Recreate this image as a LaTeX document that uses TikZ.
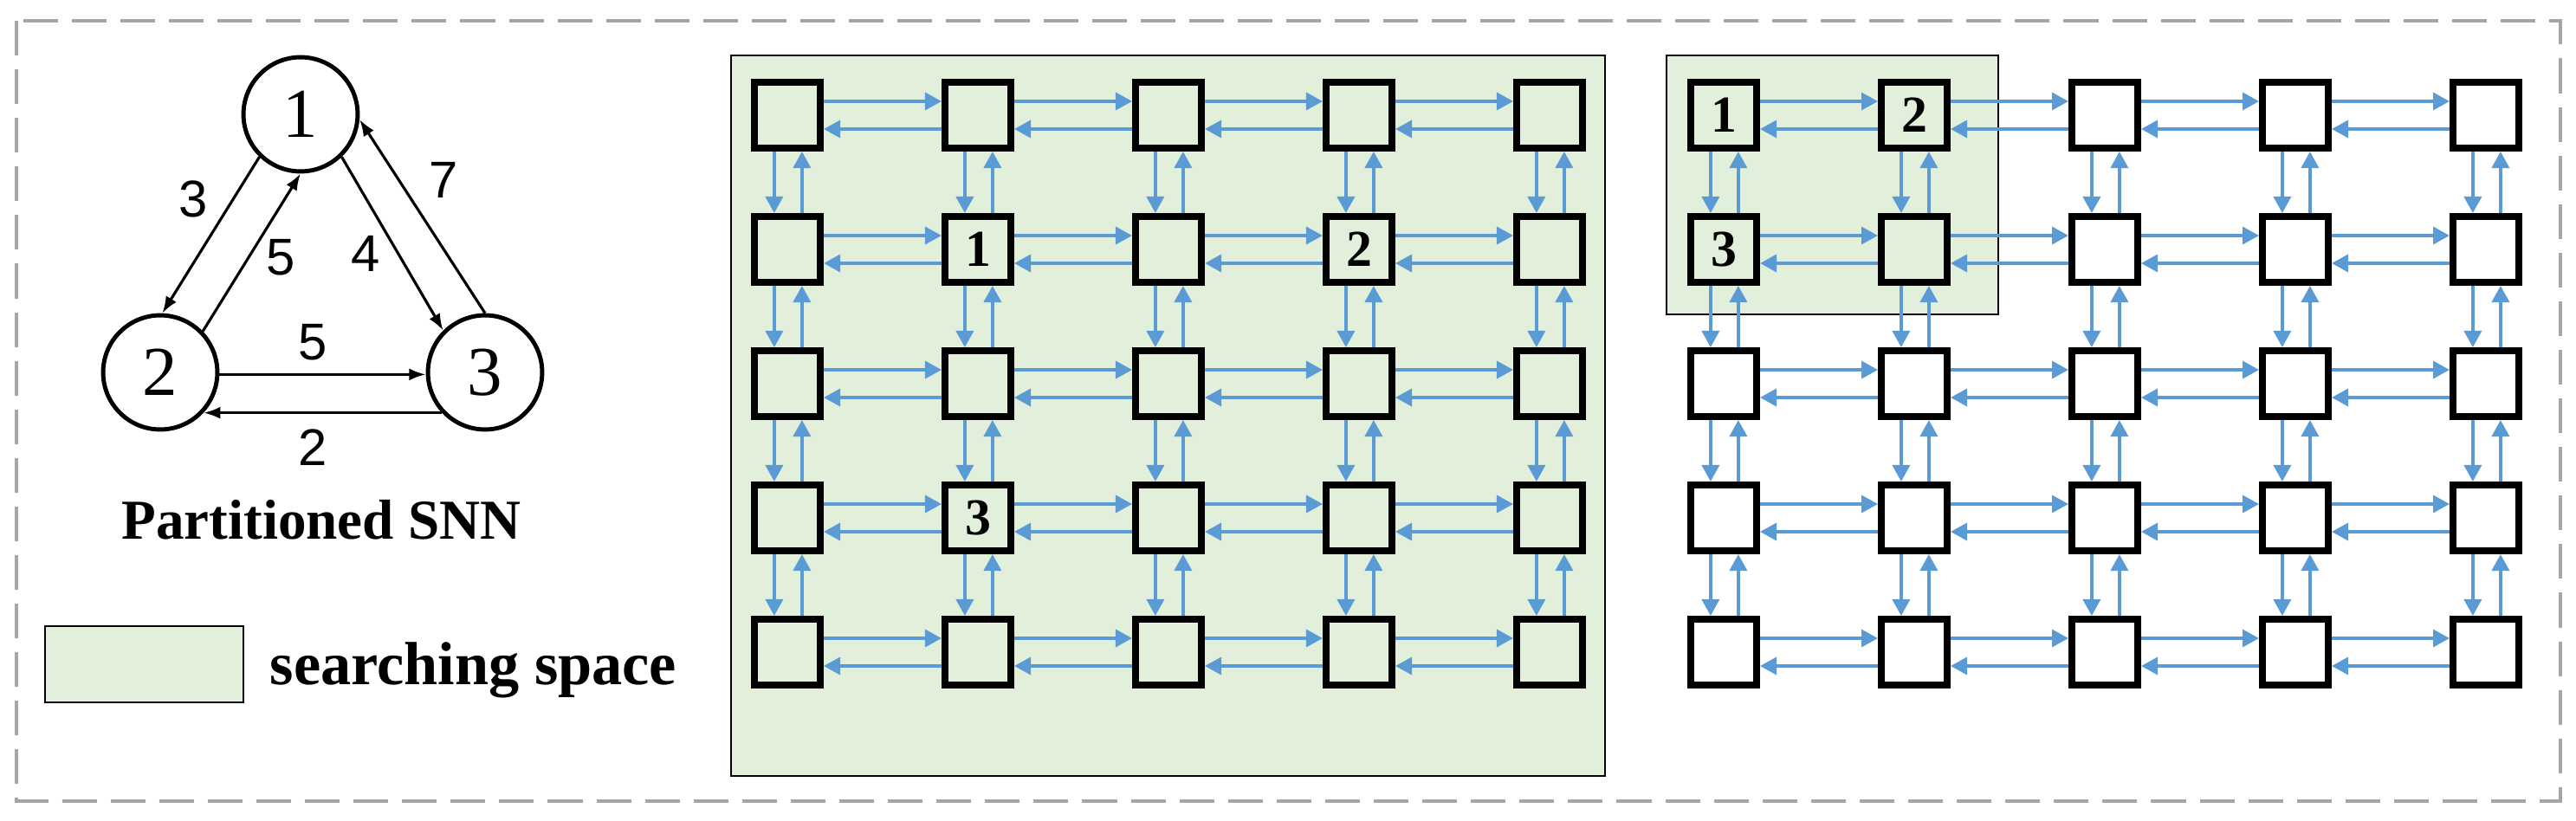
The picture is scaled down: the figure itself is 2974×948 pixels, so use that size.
\documentclass[tikz,border=0pt]{standalone}
\usepackage{fontspec}
\setmainfont{Liberation Serif}
\newfontfamily\lsans{Liberation Sans}
\usetikzlibrary{arrows.meta}
\definecolor{sgreen}{HTML}{E2EFDA}
\definecolor{lblue}{HTML}{5B9BD5}
\definecolor{dgray}{HTML}{A6A6A6}
\begin{document}
\begin{tikzpicture}[x=0.01cm,y=-0.01cm,
  box/.style={draw=black,line width=2.3pt,minimum size=21.6pt,inner sep=0pt,font=\fontsize{17}{17}\selectfont\bfseries},
  link/.style={draw=lblue,line width=0.95pt,-{Triangle[length=5.4pt,width=5.7pt]}},
  snn/.style={circle,draw=black,line width=1.4pt,minimum size=37.5pt,inner sep=0pt,font=\fontsize{23}{23}\selectfont},
  sedge/.style={draw=black,line width=0.9pt,-{Latex[length=5.5pt,width=4pt]}},
  elab/.style={font=\lsans\fontsize{17}{17}\selectfont,inner sep=0pt},
  region/.style={fill=sgreen,draw=black,line width=0.8pt}]
\useasboundingbox (0,0) rectangle (2974,948);
\draw[dgray,line width=1.14pt,dash pattern=on 11.4pt off 4.55pt] (19,24) rectangle (2956,925);

% left: partitioned SNN
\node[snn] (n1) at (347,132) {1};
\node[snn] (n2) at (185,430) {2};
\node[snn] (n3) at (560,430) {3};
\draw[sedge] (n1.-134) -- (n2.88);
\draw[sedge] (n2.44) -- (n1.-90);
\draw[sedge] (n1.-46) -- (n3.135);
\draw[sedge] (n3.90) -- (n1.-5);
\draw[sedge] (n2.-2) -- (n3.182);
\draw[sedge] (n3.-137) -- (n2.-43);
\node[elab] (l3) at (223,230) {3};
\node[elab] (l5a) at (324,297) {5};
\node[elab] (l4) at (422,293) {4};
\node[elab] (l7) at (512,208) {7};
\node[elab] (l5b) at (361,395) {5};
\node[elab] (l2) at (361,517) {2};
\node[font=\fontsize{18.5}{18.5}\selectfont\bfseries] (title) at (371,600) {Partitioned SNN};
\draw[region] (52,723) rectangle (281,811);
\node[anchor=base west,inner sep=0pt,font=\fontsize{20}{20}\selectfont\bfseries] (legend) at (311,790) {searching space};

% search regions
\draw[region] (844,64) rectangle (1853,896);
\draw[region] (1924,64) rectangle (2307,363);

% grids
\foreach \g/\x in {m/909,r/1990}{
  \foreach \r in {1,...,5}{
    \foreach \c in {1,...,5}{
      \node[box] (\g-\r-\c) at ({\x+220*(\c-1)},{133+155*(\r-1)}) {};
    }
  }
  \foreach \r in {1,...,5}{
    \foreach \c/\d in {1/2,2/3,3/4,4/5}{
      \draw[link] ([yshift=4.55pt]\g-\r-\c.east) -- ([yshift=4.55pt]\g-\r-\d.west);
      \draw[link] ([yshift=-4.55pt]\g-\r-\d.west) -- ([yshift=-4.55pt]\g-\r-\c.east);
    }
  }
  \foreach \c in {1,...,5}{
    \foreach \r/\s in {1/2,2/3,3/4,4/5}{
      \draw[link] ([xshift=-4.3pt]\g-\r-\c.south) -- ([xshift=-4.3pt]\g-\s-\c.north);
      \draw[link] ([xshift=4.8pt]\g-\s-\c.north) -- ([xshift=4.8pt]\g-\r-\c.south);
    }
  }
}
\node[box,draw=none] at (m-2-2) {1};
\node[box,draw=none] at (m-2-4) {2};
\node[box,draw=none] at (m-4-2) {3};
\node[box,draw=none] at (r-1-1) {1};
\node[box,draw=none] at (r-1-2) {2};
\node[box,draw=none] at (r-2-1) {3};
\end{tikzpicture}
\end{document}
